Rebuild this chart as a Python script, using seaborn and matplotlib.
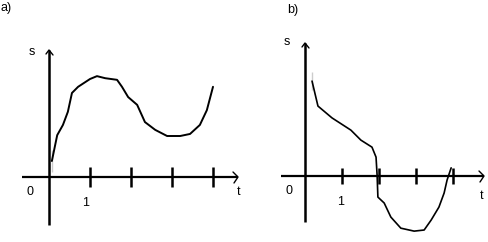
import matplotlib
matplotlib.use("Agg")
import matplotlib.pyplot as plt
import seaborn as sns
import numpy as np

sns.set_theme(style="white")
plt.rcParams['font.family'] = ['Liberation Sans', 'DejaVu Sans']

# Panel a) data (t, s)
a_t = [0.07, 0.07, 0.20, 0.34, 0.46, 0.56, 0.71, 1.00, 1.17, 1.37, 1.66, 1.78,
       1.93, 2.15, 2.34, 2.59, 2.88, 3.20, 3.44, 3.68, 3.85, 4.00]
a_s = [0.12, 0.66, 1.02, 1.27, 1.59, 2.05, 2.20, 2.39, 2.46, 2.41, 2.37, 2.20,
       1.95, 1.76, 1.34, 1.15, 1.00, 1.00, 1.05, 1.27, 1.63, 2.20]

# Panel b) data (t, s)
b_t = [0.19, 0.19, 0.35, 0.73, 1.24, 1.51, 1.81, 1.92, 1.95, 1.97, 2.14, 2.32,
       2.59, 2.95, 3.22, 3.41, 3.62, 3.76, 3.84, 3.95]
b_s = [2.81, 2.32, 1.89, 1.57, 1.24, 0.97, 0.78, 0.51, 0.00, -0.57, -0.73, -1.11,
       -1.41, -1.49, -1.46, -1.19, -0.84, -0.46, -0.11, 0.22]

ticks = [1, 2, 3, 4]
tick_labels = ["1"]

W, H = 488, 242
fig = plt.figure(figsize=(W / 100, H / 100), dpi=100)

def make_axes(px0, px1, ox, oy, unit):
    ax = fig.add_axes([px0 / W, 0, (px1 - px0) / W, 1])
    ax.set_xlim((px0 - ox) / unit, (px1 - ox) / unit)
    ax.set_ylim((oy - H) / unit, oy / unit)
    ax.axis("off")
    return ax

ax_a = make_axes(0, 244, 49, 177, 41)
ax_b = make_axes(244, 488, 305, 176, 37)

def draw_axes(ax, unit, xmin, xmax, ymin, ymax, tick_h):
    k = 1.0 / unit
    ax.plot([xmin, xmax], [0, 0], color="black", lw=1.6, solid_capstyle="butt")
    ax.plot([0, 0], [ymin, ymax], color="black", lw=1.8, solid_capstyle="butt")
    # arrow barbs
    ax.plot([xmax - 5 * k, xmax, xmax - 4 * k], [5 * k, 0, -6 * k], color="black", lw=1.0)
    ax.plot([-3 * k, 0, 4 * k], [ymax - 4 * k, ymax, ymax - 5 * k], color="black", lw=1.0)
    for t in ticks:
        ax.plot([t, t], [-tick_h * k, tick_h * k], color="black", lw=1.8, solid_capstyle="butt")

draw_axes(ax_a, 41, -27 / 41, 189 / 41, -48 / 41, 127 / 41, 10)
draw_axes(ax_b, 37, -24 / 37, 179 / 37, -46 / 37, 133 / 37, 8)

sns.lineplot(x=a_t, y=a_s, sort=False, ax=ax_a, color="black", lw=1.4)
sns.lineplot(x=b_t, y=b_s, sort=False, ax=ax_b, color="black", lw=1.2)

def ftext(px, py, s):
    fig.text(px / W, 1 - py / H, s, ha="center", va="center", fontsize=9, color="black")

ftext(6, 8, "a)")
ftext(293, 10, "b)")
ftext(32, 52, "s")
ftext(287, 42, "s")
ftext(30, 192, "0")
ftext(86, 203, tick_labels[0])
ftext(239, 192, "t")
ftext(289, 191, "0")
ftext(341, 202, tick_labels[0])
ftext(482, 196, "t")

fig.savefig("out.png", dpi=100, facecolor="white")
